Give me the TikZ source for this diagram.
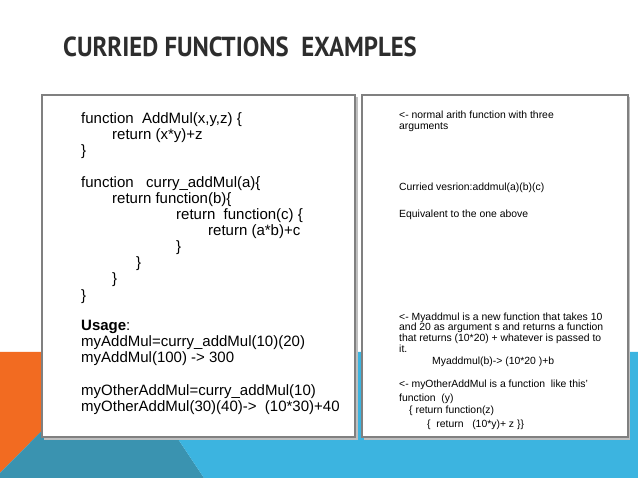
\documentclass[tikz,border=0pt]{standalone}
\usepackage{fontspec}
\setmainfont{Liberation Sans}
\newfontfamily\titlefont[FakeStretch=0.9]{PT Sans}
\begin{document}
\begin{tikzpicture}[x=1pt,y=-1pt,
  lt/.style={anchor=west,inner sep=0pt,font=\fontsize{15}{16}\selectfont},
  rt/.style={anchor=west,inner sep=0pt,font=\fontsize{10.4}{10.8}\selectfont,align=left}]
\useasboundingbox (0,0) rectangle (638,478);
\fill[white] (0,0) rectangle (638,478);
\fill[fill={rgb,255:red,242;green,107;blue,33}] (0,352) -- (120,352) -- (0,473) -- cycle;
\fill[fill={rgb,255:red,58;green,147;blue,176}] (120,352) -- (0,473) -- (0,478) -- (204,478) -- cycle;
\fill[fill={rgb,255:red,60;green,180;blue,224}] (120,352) -- (638,352) -- (638,478) -- (204,478) -- cycle;
\node[anchor=west,inner sep=0pt,text={rgb,255:red,45;green,45;blue,45},font=\titlefont\bfseries\fontsize{27.5}{28}\selectfont] (title) at (63,47) {CURRIED FUNCTIONS\ \ EXAMPLES};
\fill[black!25] (44,97) rectangle (358,440);
\fill[black!25] (364,97) rectangle (630,440);
\draw[draw=black!50,line width=1.2pt,fill=white] (42,95) rectangle (355,437);
\draw[draw=black!50,line width=1.2pt,fill=white] (362,95) rectangle (628,437);
\node[lt] (l1) at (81,120) {function\ \ AddMul(x,y,z) \{};
\node[lt] (l2) at (112,136) {return (x*y)+z};
\node[lt] (l3) at (81,152) {\}};
\node[lt] (l4) at (81,184) {function\ \ \ curry\_addMul(a)\{};
\node[lt] (l5) at (112,200) {return function(b)\{};
\node[lt] (l6) at (176,216) {return\ \ function(c) \{};
\node[lt] (l7) at (208,232) {return (a*b)+c};
\node[lt] (l8) at (176,248) {\}};
\node[lt] (l9) at (136,264) {\}};
\node[lt] (l10) at (112,280) {\}};
\node[lt] (l11) at (81,297) {\}};
\node[lt] (l12) at (81,327) {\textbf{Usage}:};
\node[lt] (l13) at (81,343) {myAddMul=curry\_addMul(10)(20)};
\node[lt] (l14) at (81,359) {myAddMul(100) -> 300};
\node[lt] (l15) at (81,392) {myOtherAddMul=curry\_addMul(10)};
\node[lt] (l16) at (81,408) {myOtherAddMul(30)(40)->\ \ (10*30)+40};
\node[rt] (r1) at (399,121) {<- normal arith function with three\\arguments};
\node[rt] (r2) at (399,188) {Curried vesrion:addmul(a)(b)(c)};
\node[rt] (r3) at (399,215) {Equivalent to the one above};
\node[rt] (r4) at (399,332.5) {<- Myaddmul is a new function that takes 10\\and 20 as argument s and returns a function\\that returns (10*20) + whatever is passed to\\it.};
\node[rt] (r5) at (432,362) {Myaddmul(b)-> (10*20 )+b};
\node[rt] (r6) at (399,385) {<- myOtherAddMul is a function\ \ like this'};
\node[rt] (r7) at (399,399) {function\ \ (y)};
\node[rt] (r8) at (409,411) {\{ return function(z)};
\node[rt] (r9) at (427,425) {\{\ \ return\ \ \ (10*y)+ z \}\}};
\end{tikzpicture}
\end{document}
